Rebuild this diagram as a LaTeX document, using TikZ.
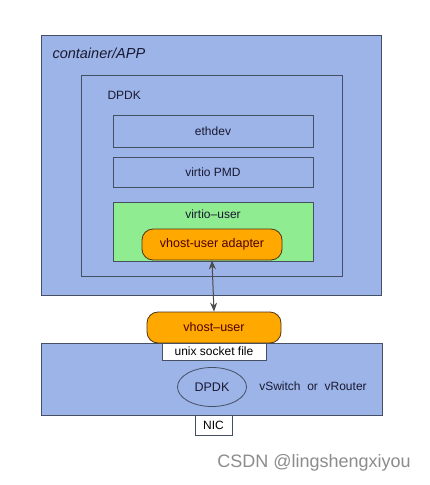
\documentclass[tikz,border=0pt]{standalone}
\usepackage{fontspec}
\setmainfont{Liberation Sans}
\usetikzlibrary{shapes.geometric,arrows.meta}

\definecolor{boxblue}{RGB}{157,180,232}
\definecolor{boxgreen}{RGB}{144,236,144}
\definecolor{boxorange}{RGB}{255,168,0}
\definecolor{edgegray}{RGB}{70,80,100}
\definecolor{textnavy}{RGB}{25,25,50}

\tikzstyle{layer}=[draw=edgegray,fill=boxblue,line width=0.8pt,inner sep=0pt]
\tikzstyle{part}=[layer,text=textnavy,font=\fontsize{12}{14}\selectfont]
\tikzstyle{pill}=[draw=black!60!brown,fill=boxorange,rounded corners=11pt,line width=0.8pt,text=black!70!red,font=\fontsize{12.5}{14}\selectfont]
\tikzstyle{tag}=[draw=edgegray,fill=white,line width=0.8pt,inner sep=0pt,font=\fontsize{12}{14}\selectfont]

\begin{document}
\begin{tikzpicture}[x=1pt,y=-1pt]
		\useasboundingbox[fill=white] (0,0) rectangle (429,485);
		\node[layer,minimum width=340,minimum height=260] (app) at (211,165) {};
		\node[anchor=west,font=\fontsize{14.5}{16}\itshape,text=textnavy] (applbl) at (49,53) {container/APP};
		\node[layer,minimum width=261,minimum height=201] (dpdk) at (211.5,175.5) {};
		\node[anchor=west,font=\fontsize{12}{14}\selectfont,text=textnavy] (dpdklbl) at (104,95) {DPDK};
		\node[part,minimum width=200,minimum height=32] (eth) at (213,131) {ethdev};
		\node[part,minimum width=200,minimum height=30] (pmd) at (213,172) {virtio PMD};
		\node[part,fill=boxgreen,minimum width=200,minimum height=59] (vuser) at (213,231.5) {};
		\node[font=\fontsize{12}{14}\selectfont,text=textnavy] (vuserlbl) at (213,214) {virtio--user};
		\node[pill,minimum width=140,minimum height=31] (adapter) at (212,244.5) {vhost-user adapter};
		% host side
		\node[layer,minimum width=341,minimum height=72] (host) at (211.5,379) {};
		\node[pill,minimum width=134,minimum height=31] (vhost) at (214,327.5) {vhost--user};
		\node[tag,minimum width=104,minimum height=17] (sock) at (214,351.5) {unix socket file};
		\node[ellipse,draw=edgegray,line width=0.8pt,minimum width=69,minimum height=39,inner sep=0pt,font=\fontsize{12.5}{14}\selectfont,text=textnavy] (hdpdk) at (212,387) {DPDK};
		\node[font=\fontsize{12}{14}\selectfont,text=textnavy] (switch) at (313,386) {vSwitch\ \ or\ \ vRouter};
		\node[tag,minimum width=37,minimum height=20] (nic) at (213.5,425) {NIC};
		\node[font=\fontsize{18}{20}\selectfont,text=black!45] (mark) at (314,463) {CSDN @lingshengxiyou};
		% the link
		\draw[{Stealth[length=9pt,width=7pt]}-{Stealth[length=9pt,width=7pt]},draw=black!70,fill=black!70,line width=1pt] (adapter.south) -- (vhost.north);
\end{tikzpicture}
\end{document}
